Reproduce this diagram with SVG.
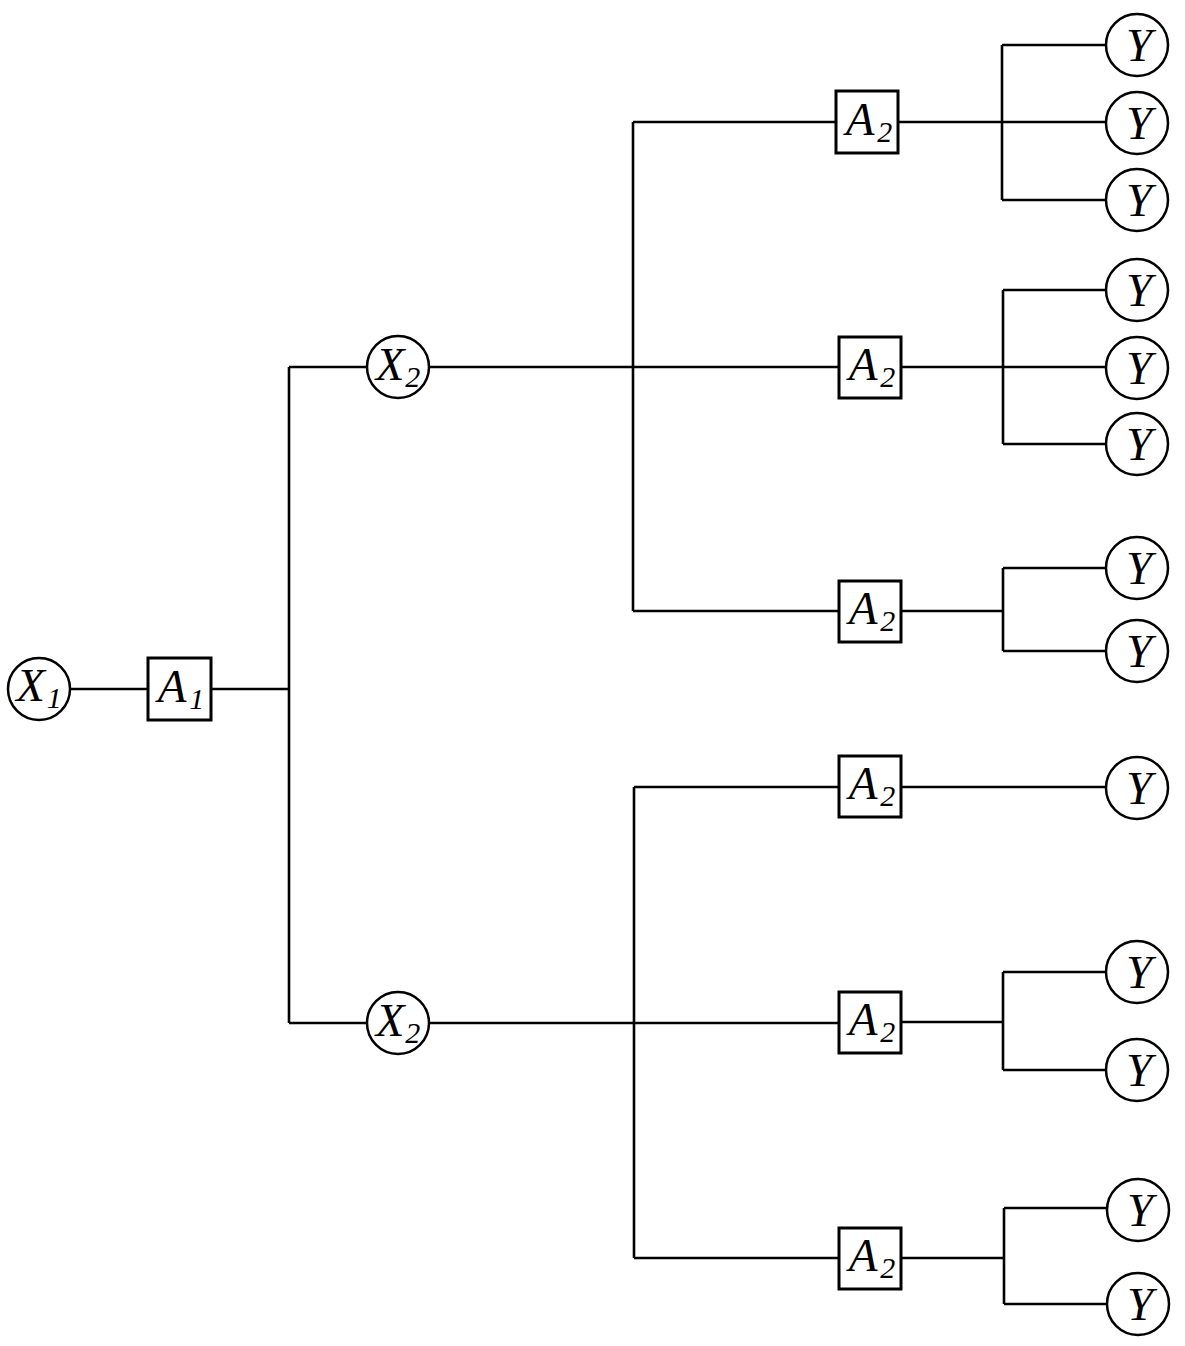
<svg xmlns="http://www.w3.org/2000/svg" width="1185" height="1346" viewBox="0 0 1185 1346">
<style>
.c{fill:#fff;stroke:#000;stroke-width:2.5}
.b{fill:#fff;stroke:#000;stroke-width:3}
.l{fill:none;stroke:#000;stroke-width:2.6}
text{font-family:"Liberation Serif","Times New Roman",serif;font-style:italic;font-size:47px;fill:#000;text-anchor:middle}
.s{font-size:30px}
</style>
<rect width="1185" height="1346" fill="#fff"/>
<g id="connectors">
<path class="l" d="M70,689H148M211,689H289M289,367V1023M289,367H366M289,1023H366"/>
<path class="l" d="M429,367H839M633,122V611M633,122H836M633,611H839"/>
<path class="l" d="M429,1023H839M634,787V1258M634,787H839M634,1258H839"/>
<path class="l" d="M898,122H1106M1002,45V200M1002,45H1106M1002,200H1106"/>
<path class="l" d="M901,367H1106M1003,290V444M1003,290H1106M1003,444H1106"/>
<path class="l" d="M901,611H1003M1003,568V651M1003,568H1106M1003,651H1106"/>
<path class="l" d="M901,787H1106"/>
<path class="l" d="M901,1022H1003M1003,972V1070M1003,972H1106M1003,1070H1106"/>
<path class="l" d="M901,1258H1004M1004,1208V1304M1004,1208H1107M1004,1304H1107"/>
</g>
<g id="X1"><circle class="c" cx="39" cy="689" r="31"/><text x="39" y="701">X<tspan class="s" dx="2" dy="7">1</tspan></text></g>
<g id="A1"><rect class="b" x="148" y="658" width="63" height="62"/><text x="181" y="702">A<tspan class="s" dx="3" dy="7">1</tspan></text></g>
<g id="X2a"><circle class="c" cx="398" cy="367" r="31"/><text x="398" y="380">X<tspan class="s" dx="1" dy="7">2</tspan></text></g>
<g id="X2b"><circle class="c" cx="398" cy="1023" r="31"/><text x="398" y="1036">X<tspan class="s" dx="1" dy="7">2</tspan></text></g>
<g id="A2a"><rect class="b" x="836" y="91" width="62" height="62"/><text x="869" y="135">A<tspan class="s" dx="3" dy="7">2</tspan></text></g>
<g id="A2b"><rect class="b" x="839" y="337" width="62" height="61"/><text x="872" y="380">A<tspan class="s" dx="3" dy="7">2</tspan></text></g>
<g id="A2c"><rect class="b" x="839" y="581" width="62" height="61"/><text x="872" y="624">A<tspan class="s" dx="3" dy="7">2</tspan></text></g>
<g id="A2d"><rect class="b" x="839" y="756" width="62" height="61"/><text x="872" y="799">A<tspan class="s" dx="3" dy="7">2</tspan></text></g>
<g id="A2e"><rect class="b" x="839" y="992" width="62" height="61"/><text x="872" y="1035">A<tspan class="s" dx="3" dy="7">2</tspan></text></g>
<g id="A2f"><rect class="b" x="839" y="1228" width="62" height="61"/><text x="872" y="1271">A<tspan class="s" dx="3" dy="7">2</tspan></text></g>
<g id="Y1"><circle class="c" cx="1137" cy="45" r="31"/><text x="1139" y="61">Y</text></g>
<g id="Y2"><circle class="c" cx="1137" cy="123" r="31"/><text x="1139" y="139">Y</text></g>
<g id="Y3"><circle class="c" cx="1137" cy="200" r="31"/><text x="1139" y="216">Y</text></g>
<g id="Y4"><circle class="c" cx="1137" cy="290" r="31"/><text x="1139" y="306">Y</text></g>
<g id="Y5"><circle class="c" cx="1137" cy="368" r="31"/><text x="1139" y="384">Y</text></g>
<g id="Y6"><circle class="c" cx="1137" cy="444" r="31"/><text x="1139" y="460">Y</text></g>
<g id="Y7"><circle class="c" cx="1137" cy="568" r="31"/><text x="1139" y="584">Y</text></g>
<g id="Y8"><circle class="c" cx="1137" cy="651" r="31"/><text x="1139" y="667">Y</text></g>
<g id="Y9"><circle class="c" cx="1137" cy="788" r="31"/><text x="1139" y="804">Y</text></g>
<g id="Y10"><circle class="c" cx="1137" cy="972" r="31"/><text x="1139" y="988">Y</text></g>
<g id="Y11"><circle class="c" cx="1137" cy="1070" r="31"/><text x="1139" y="1086">Y</text></g>
<g id="Y12"><circle class="c" cx="1138" cy="1210" r="31"/><text x="1140" y="1226">Y</text></g>
<g id="Y13"><circle class="c" cx="1138" cy="1304" r="31"/><text x="1140" y="1320">Y</text></g>
</svg>
